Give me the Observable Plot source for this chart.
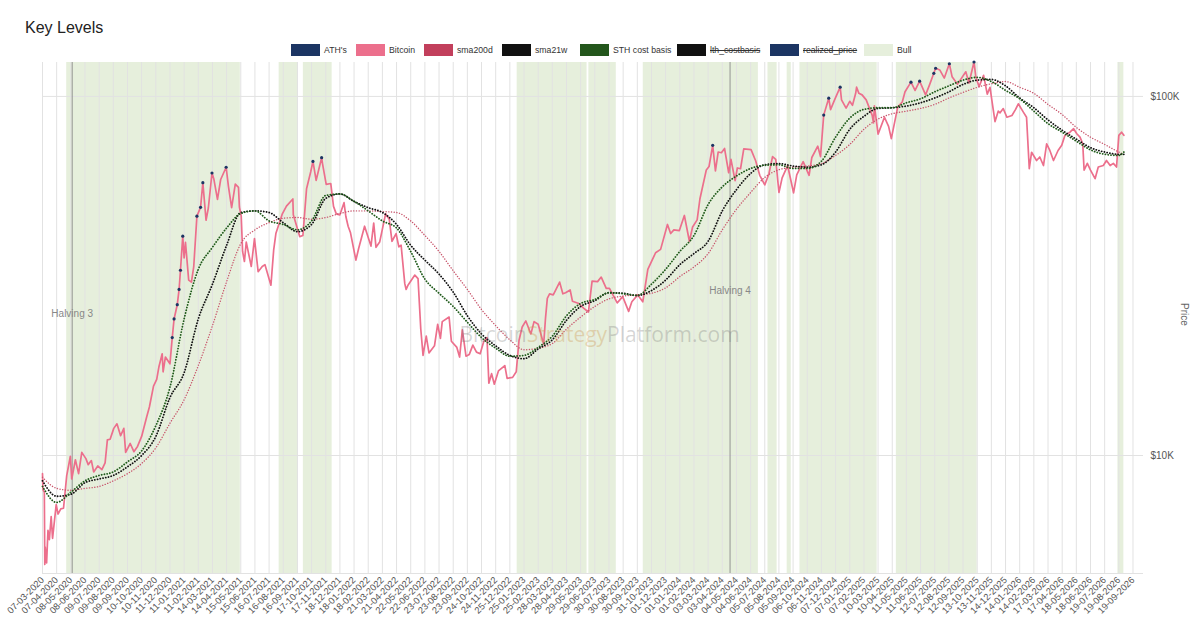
<!DOCTYPE html>
<html>
<head>
<meta charset="utf-8">
<script src="https://cdn.jsdelivr.net/npm/d3@7"></script>
<script src="https://cdn.jsdelivr.net/npm/@observablehq/plot@0.6"></script>
<style>
  html, body { margin: 0; padding: 0; background: #fff; }
  #wrap { position: relative; width: 1199px; height: 627px; overflow: hidden; font-family: "Liberation Sans", Arial, sans-serif; }
  #title { position: absolute; left: 25px; top: 18px; font-size: 16px; line-height: 20px; color: #222; }
  .lg { position: absolute; top: 44px; height: 12px; display: flex; align-items: center; font-size: 8.7px; color: #333; white-space: nowrap; }
  .lg .sw { width: 29px; height: 12px; margin-right: 4px; }
  .lg.off .tx { text-decoration: line-through; }
  #chart { position: absolute; left: 0; top: 58px; }
  #wm { position: absolute; left: 0; width: 1199px; top: 320px; text-align: center; font-family: "Open Sans", sans-serif; font-size: 21px; color: rgba(110,110,110,0.28); pointer-events: none; }
  #wm span { color: rgba(205,150,80,0.35); }
  #ylab { position: absolute; left: 1166px; top: 309px; width: 36px; text-align: center; font-size: 10px; color: #666; transform: rotate(90deg); }
</style>
</head>
<body>
<div id="wrap">
  <div id="title">Key Levels</div>
  <div id="legend"></div>
  <div id="chart"></div>
  <div id="wm">Bitcoin<span>Strategy</span>Platform.com</div>
  <div id="ylab">Price</div>
</div>
<script>
// ---------- DATA ----------
const tickLabels = ["07-03-2020","07-04-2020","08-05-2020","08-06-2020","09-07-2020","09-08-2020","09-09-2020","10-10-2020","10-11-2020","11-12-2020","11-01-2021","11-02-2021","14-03-2021","14-04-2021","15-05-2021","15-06-2021","16-07-2021","16-08-2021","16-09-2021","17-10-2021","17-11-2021","18-12-2021","18-01-2022","18-02-2022","21-03-2022","21-04-2022","22-05-2022","22-06-2022","23-07-2022","23-08-2022","23-09-2022","24-10-2022","24-11-2022","25-12-2022","25-01-2023","25-02-2023","28-03-2023","28-04-2023","29-05-2023","29-06-2023","30-07-2023","30-08-2023","30-09-2023","31-10-2023","01-12-2023","01-01-2024","01-02-2024","03-03-2024","03-04-2024","04-05-2024","04-06-2024","05-07-2024","05-08-2024","05-09-2024","06-10-2024","06-11-2024","07-12-2024","07-01-2025","07-02-2025","10-03-2025","10-04-2025","11-05-2025","11-06-2025","12-07-2025","12-08-2025","12-09-2025","13-10-2025","13-11-2025","14-12-2025","14-01-2026","14-02-2026","17-03-2026","17-04-2026","18-05-2026","18-06-2026","19-07-2026","19-08-2026","19-09-2026"];

const btcDates = [
"2020-03-07","2020-03-08","2020-03-11","2020-03-12","2020-03-13","2020-03-16","2020-03-19","2020-03-22","2020-03-26","2020-03-29","2020-04-06","2020-04-10","2020-04-16","2020-04-22","2020-04-29","2020-05-07","2020-05-10","2020-05-18","2020-05-25","2020-06-01","2020-06-10","2020-06-15","2020-06-22","2020-06-27","2020-07-06","2020-07-15","2020-07-22","2020-07-27","2020-08-02","2020-08-10","2020-08-17","2020-08-25","2020-09-01","2020-09-05","2020-09-15","2020-09-23","2020-10-01","2020-10-10","2020-10-21","2020-10-27","2020-11-05","2020-11-12","2020-11-17","2020-11-24","2020-11-26","2020-12-01","2020-12-11","2020-12-16","2020-12-20","2020-12-27","2020-12-31",
"2021-01-03","2021-01-08","2021-01-11","2021-01-14","2021-01-21","2021-01-27","2021-02-01","2021-02-08","2021-02-16","2021-02-21","2021-02-28","2021-03-05","2021-03-13","2021-03-17","2021-03-25","2021-04-01","2021-04-13","2021-04-18","2021-04-25","2021-05-03","2021-05-10","2021-05-12","2021-05-16","2021-05-19","2021-05-23","2021-05-27","2021-06-07","2021-06-14","2021-06-22","2021-07-01","2021-07-07","2021-07-20","2021-07-26","2021-07-31","2021-08-14","2021-08-23","2021-09-06","2021-09-07","2021-09-21","2021-09-28","2021-10-06","2021-10-15","2021-10-20","2021-10-27","2021-11-08","2021-11-10","2021-11-18","2021-11-28","2021-12-04","2021-12-10","2021-12-18","2021-12-27","2021-12-31",
"2022-01-05","2022-01-10","2022-01-22","2022-01-28","2022-02-10","2022-02-24","2022-03-02","2022-03-07","2022-03-15","2022-03-28","2022-04-05","2022-04-11","2022-04-20","2022-04-26","2022-05-01","2022-05-09","2022-05-12","2022-05-16","2022-05-31","2022-06-07","2022-06-13","2022-06-18","2022-06-25","2022-07-01","2022-07-13","2022-07-20","2022-07-26","2022-07-30","2022-08-14","2022-08-19","2022-08-31","2022-09-06","2022-09-12","2022-09-20","2022-09-27","2022-10-05","2022-10-13","2022-10-21","2022-10-29","2022-11-05","2022-11-09","2022-11-15","2022-11-21","2022-11-30","2022-12-14","2022-12-19","2022-12-31",
"2023-01-08","2023-01-14","2023-01-21","2023-01-29","2023-02-09","2023-02-16","2023-02-25","2023-03-09","2023-03-13","2023-03-17","2023-03-22","2023-03-30","2023-04-13","2023-04-20","2023-04-26","2023-05-06","2023-05-11","2023-05-25","2023-06-05","2023-06-15","2023-06-23","2023-07-05","2023-07-13","2023-07-24","2023-07-31","2023-08-17","2023-08-29","2023-09-11","2023-09-18","2023-10-01","2023-10-12","2023-10-23","2023-11-09","2023-11-20","2023-12-05","2023-12-12","2023-12-19","2023-12-31",
"2024-01-11","2024-01-22","2024-01-29","2024-02-08","2024-02-14","2024-02-28","2024-03-05","2024-03-13","2024-03-19","2024-03-25","2024-04-01","2024-04-08","2024-04-17","2024-04-22","2024-05-01","2024-05-06","2024-05-13","2024-05-20","2024-06-05","2024-06-15","2024-06-24","2024-07-05","2024-07-14","2024-07-22","2024-07-29","2024-08-05","2024-08-12","2024-08-24","2024-09-06","2024-09-13","2024-09-27","2024-10-10","2024-10-16","2024-10-29","2024-11-04","2024-11-11","2024-11-22","2024-11-26","2024-12-05","2024-12-17","2024-12-20","2024-12-30",
"2025-01-07","2025-01-13","2025-01-20","2025-01-22","2025-01-27","2025-02-03","2025-02-12","2025-02-25","2025-02-28","2025-03-02","2025-03-10","2025-03-24","2025-04-02","2025-04-08","2025-04-22","2025-05-02","2025-05-08","2025-05-21","2025-05-30","2025-06-09","2025-06-22","2025-06-30","2025-07-10","2025-07-14","2025-07-23","2025-08-02","2025-08-13","2025-08-19","2025-08-31","2025-09-18","2025-09-25","2025-10-06","2025-10-10","2025-10-17","2025-10-27","2025-11-04","2025-11-10","2025-11-17","2025-11-21","2025-11-28","2025-12-02","2025-12-09","2025-12-17","2025-12-28",
"2026-01-05","2026-01-11","2026-01-22","2026-01-29","2026-02-04","2026-02-09","2026-02-20","2026-02-27","2026-03-07","2026-03-14","2026-03-21","2026-03-29","2026-04-08","2026-04-16","2026-04-23","2026-05-04","2026-05-12","2026-05-19","2026-05-26","2026-06-01","2026-06-04","2026-06-11","2026-06-18","2026-06-28","2026-07-05","2026-07-16","2026-07-23","2026-07-31","2026-08-07","2026-08-14","2026-08-19","2026-08-25","2026-08-30"];

// Bitcoin price, thousands of USD
const btcPrice = [
8.9,8.03,7.9,4.97,5.56,5.02,6.19,5.83,6.76,5.88,7.3,6.87,7.1,7.13,8.79,9.95,8.6,9.73,8.9,10.2,9.8,9.43,9.68,9.0,9.35,9.13,9.54,11.05,11.1,11.9,12.25,11.35,11.9,10.2,10.8,10.25,10.6,11.3,12.8,13.65,15.6,16.3,17.7,19.2,17.1,18.8,18.0,21.3,24.0,26.3,29.0,
32.8,40.8,35.5,39.2,30.8,30.4,33.5,46.4,49.1,57.5,45.2,48.9,61.2,58.9,51.7,58.7,63.5,56.2,49.0,57.0,55.8,49.2,46.4,37.0,34.7,39.3,33.6,40.2,32.5,33.6,34.0,29.8,37.3,41.6,47.1,49.5,51.8,46.8,40.7,41.0,55.3,61.6,65.9,58.4,67.5,64.9,56.9,57.2,49.4,47.1,46.8,50.6,46.3,
43.5,41.8,35.0,37.7,43.5,38.3,44.4,38.0,39.3,47.1,45.5,39.5,41.5,38.1,38.5,30.1,29.0,29.8,31.8,31.1,22.5,19.0,21.5,19.3,20.2,23.2,21.2,23.6,24.3,20.8,20.0,18.8,22.4,18.9,19.1,20.3,19.4,19.2,20.8,21.3,15.9,16.9,15.8,17.2,17.8,16.4,16.5,
17.1,20.9,22.8,23.7,21.8,23.6,23.2,20.4,24.1,27.4,28.2,28.0,30.4,28.2,28.4,28.9,26.9,26.5,25.7,25.1,30.6,30.5,31.4,29.2,29.2,26.6,27.7,25.2,26.8,28.0,26.8,33.0,36.7,37.5,44.0,41.5,42.5,42.3,
46.6,39.5,43.3,45.3,51.8,62.4,63.8,73.1,62.0,70.0,69.7,71.6,61.3,66.8,58.3,63.2,62.9,71.4,71.1,66.2,60.3,56.7,60.8,68.0,66.8,54.0,59.3,64.2,53.9,60.5,65.8,60.3,67.6,72.7,68.0,88.7,98.9,91.9,98.0,106.1,97.8,92.8,
96.9,94.5,102.0,106.1,102.0,101.0,97.8,88.7,84.4,94.2,78.5,87.5,82.5,76.3,93.4,96.5,103.0,109.6,103.9,110.3,101.0,107.2,116.0,119.8,118.5,112.5,123.3,113.5,108.2,117.1,109.0,124.7,113.2,106.5,114.5,101.5,106.0,92.0,85.1,91.0,90.0,92.5,87.5,88.5,
92.0,95.4,90.4,87.5,62.9,69.9,66.3,67.8,64.2,73.8,70.7,66.3,70.7,73.1,77.9,79.5,81.3,78.7,77.0,73.8,62.3,65.1,62.3,59.0,63.6,64.2,66.3,64.2,65.1,63.6,77.9,79.5,77.9];

// Moving averages / cost basis, sampled at the axis tick dates (last value at the final data day)
const maEndDate = "2026-08-30";
const sma200d = [8.7,8.1,8.0,8.1,8.2,8.5,8.9,9.5,10.5,12.3,14.3,17.8,23,30.5,38.9,42.5,44.5,45.8,46,45.5,46,47.2,48,48,47.8,47.5,45,41,37,32.7,29,25.5,23,21,19.7,19.9,20.5,22.5,24.3,26,27.3,27.8,28,28.3,29.3,31.5,33.5,36.5,42.5,48.5,54,59.5,62.5,63.5,64,65,68.5,73.5,81,86.5,89.5,91,92.6,95,99,102.6,106,108.5,110,106,102,95,89,82,77,73.5,70,69];
const sma21w = [8.5,7.7,7.8,8.4,8.6,8.8,9.3,10.0,11.3,14.5,17,24,30,38.5,47.5,48,47.5,44.5,42,44,52,53.5,51,49,47.5,44,38.5,35,32,28.5,24.5,21.8,20.2,19,18.6,19.8,21,23.8,26,27,28.4,28.3,27.9,28.8,30.8,34,36.5,39.5,48,55,61,64.5,65,64,63.5,64.5,70,81,88,92.6,93,94,96,99,103,108,111,111.5,107,99,93,86,80.5,76,72,70,69,69];
const sthCostBasis = [8.2,7.4,7.9,8.5,8.8,9.0,9.6,10.3,12.1,15.5,24,33,38,43,47.2,48,45,44,42.5,45,53,53.5,51,48,45,43,37,31,28.3,26,23.5,21.3,19.9,18.9,19,20,21.5,24.5,26.5,27.2,28.4,28.2,27.9,30,33,37,41,50,56,60,63,64.3,64.5,63,63,66,77,87,92,93,93,96,98.5,103,107,111,113,110,104,98.5,91,84,79.5,75,71,69,68.5,70];

// All-time-high closes marked on the price line
const athDates = ["2020-12-16","2020-12-20","2020-12-27","2020-12-31","2021-01-03","2021-01-08","2021-02-08","2021-02-16","2021-02-21","2021-03-13","2021-04-13","2021-10-20","2021-11-08","2024-03-13","2024-11-11","2024-11-22","2024-12-17","2025-05-21","2025-06-09","2025-07-10","2025-07-14","2025-08-13","2025-10-06"];
const athPrice = [21.3,24.0,26.3,29.0,32.8,40.8,46.4,49.1,57.5,61.2,63.5,65.9,67.5,73.1,88.7,98.9,106.1,109.6,110.3,116.0,119.8,123.3,124.7];

// Bull regime periods
const bullStart = ["2020-04-29","2021-08-07","2021-09-29","2023-01-10","2023-06-16","2023-10-13","2024-07-12","2024-08-23","2024-09-20","2025-04-19","2026-08-17"];
const bullEnd   = ["2021-05-14","2021-09-18","2021-12-01","2023-06-12","2023-08-15","2024-06-21","2024-08-01","2024-09-01","2025-03-08","2025-10-13","2026-08-30"];

const halvingNames = ["Halving 3","Halving 4"];
const halvingDates = ["2020-05-11","2024-04-20"];

const yTicks = [10000, 100000];
const xDomain = ["2020-03-07","2026-10-12"];
const yDomain = [4692, 124300];

// ---------- LEGEND ----------
const legendItems = [
  {name: "ATH's", color: "#1c3563", left: 291, off: false},
  {name: "Bitcoin", color: "#ec6f8c", left: 356, off: false},
  {name: "sma200d", color: "#c23f5c", left: 424, off: false},
  {name: "sma21w", color: "#111111", left: 502, off: false},
  {name: "STH cost basis", color: "#23561c", left: 580, off: false},
  {name: "lth_costbasis", color: "#111111", left: 677, off: true},
  {name: "realized_price", color: "#1c3563", left: 770, off: true},
  {name: "Bull", color: "#e6efdc", left: 864, off: false}
];
const lg = document.getElementById("legend");
legendItems.forEach(it => {
  const d = document.createElement("div");
  d.className = "lg" + (it.off ? " off" : "");
  d.style.left = it.left + "px";
  d.innerHTML = `<div class="sw" style="background:${it.color}"></div><span class="tx">${it.name}</span>`;
  lg.appendChild(d);
});

// ---------- TABLES ----------
const parseTick = d3.utcParse("%d-%m-%Y");
const tickDates = tickLabels.map(parseTick);
const price = btcDates.map((d, i) => ({date: new Date(d), price: btcPrice[i] * 1000}));
const maDates = tickDates.slice(0, sma200d.length - 1).concat([new Date(maEndDate)]);
const ma = maDates.map((d, i) => ({date: d, sma200d: sma200d[i] * 1000, sma21w: sma21w[i] * 1000, sth: sthCostBasis[i] * 1000}));
const ath = athDates.map((d, i) => ({date: new Date(d), price: athPrice[i] * 1000}));
const bull = bullStart.map((d, i) => ({start: new Date(d), end: new Date(bullEnd[i])}));
const halvings = halvingDates.map((d, i) => ({date: new Date(d), name: halvingNames[i]}));

const chart = Plot.plot({
  width: 1199,
  height: 569,
  marginTop: 4,
  marginBottom: 54,
  marginLeft: 42,
  marginRight: 56,
  style: {fontFamily: "Liberation Sans, Arial, sans-serif", background: "transparent", overflow: "visible"},
  x: {type: "utc", domain: xDomain.map(d => new Date(d))},
  y: {type: "log", domain: yDomain},
  marks: [
    Plot.rect(bull, {x1: "start", x2: "end", y1: () => yDomain[0], y2: () => yDomain[1], fill: "#e6efdc"}),
    Plot.ruleX(tickDates, {stroke: "#e2e2e2", strokeWidth: 1}),
    Plot.ruleY(yTicks, {stroke: "#e2e2e2", strokeWidth: 1}),
    Plot.ruleY([yDomain[0]], {stroke: "#e2e2e2", strokeWidth: 1}),
    Plot.ruleX(halvings, {x: "date", stroke: "#8a8a8a", strokeWidth: 0.9}),
    Plot.axisX({ticks: tickDates, tickFormat: d3.utcFormat("%d-%m-%Y"), tickRotate: -45, tickSize: 0, tickPadding: 5, fontSize: 9.3, fill: "#555", label: null}),
    Plot.axisY({anchor: "right", ticks: yTicks, tickFormat: d => "$" + (d / 1000) + "K", tickSize: 0, tickPadding: 7, fontSize: 10, fill: "#555", label: null}),
    Plot.line(price, {x: "date", y: "price", stroke: "#ec6f8c", strokeWidth: 1.7, strokeLinejoin: "round"}),
    Plot.line(ma, {x: "date", y: "sma200d", curve: "monotone-x", stroke: "#c8566c", strokeWidth: 1.4, strokeDasharray: "0.1,2.6", strokeLinecap: "round"}),
    Plot.line(ma, {x: "date", y: "sma21w", curve: "monotone-x", stroke: "#111", strokeWidth: 1.8, strokeDasharray: "0.1,2.7", strokeLinecap: "round"}),
    Plot.line(ma, {x: "date", y: "sth", curve: "monotone-x", stroke: "#1f5a1a", strokeWidth: 1.8, strokeDasharray: "0.1,2.7", strokeLinecap: "round"}),
    Plot.dot(ath, {x: "date", y: "price", r: 1.6, fill: "#1c3563", stroke: "none"}),
    Plot.text(halvings.filter(h => h.name === "Halving 3"), {x: "date", text: "name", frameAnchor: "middle", dy: -4.5, fontSize: 10, fill: "#888"}),
    Plot.text(halvings.filter(h => h.name === "Halving 4"), {x: "date", text: "name", frameAnchor: "middle", dy: -27.5, fontSize: 10, fill: "#888"})
  ]
});
document.getElementById("chart").appendChild(chart);
</script>
</body>
</html>
